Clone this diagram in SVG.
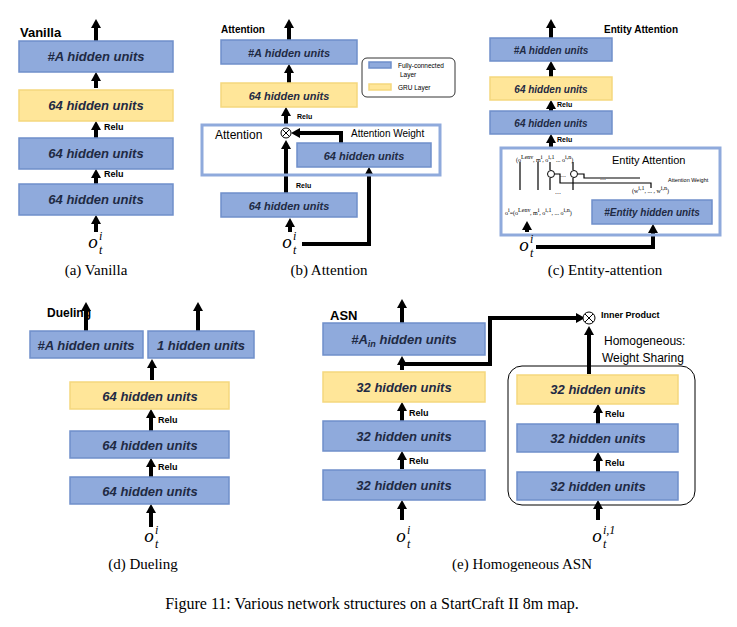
<svg xmlns="http://www.w3.org/2000/svg" width="737" height="627" viewBox="0 0 737 627">
<defs>
<marker id="ah" markerWidth="10" markerHeight="10" refX="4" refY="5" orient="auto" markerUnits="userSpaceOnUse"><path d="M0,0 L9,5 L0,10 z" fill="#000"/></marker>
</defs>
<style>
.b{fill:#8faadc;stroke:#6f8fca;stroke-width:1.5}
.y{fill:#ffe699;stroke:#f5d77e;stroke-width:1.5}
.t{font-family:"Liberation Sans",sans-serif;font-style:italic;font-weight:bold;font-size:13px;text-anchor:middle;fill:#1f2a44}
.h{font-family:"Liberation Sans",sans-serif;font-weight:bold;font-size:13px;fill:#000}
.s{font-family:"Liberation Sans",sans-serif;font-weight:bold;font-size:9px;fill:#000}
.c{font-family:"Liberation Serif",serif;font-size:15px;text-anchor:middle;fill:#000}
.o{font-family:"Liberation Serif",serif;font-style:italic;font-size:19px;text-anchor:middle}
.sub{font-family:"Liberation Serif",serif;font-style:italic;font-size:12px}
.a{stroke:#000;stroke-width:4;fill:none;marker-end:url(#ah)}
.l{stroke:#000;stroke-width:4;fill:none}
.f{fill:none;stroke:#8faadc;stroke-width:3}
.th{stroke:#000;stroke-width:1.2;fill:none}
</style>
<rect width="737" height="627" fill="#fff"/>
<g id="connectors">
<path class="a" d="M96,41 V24"/><path class="a" d="M96,138 V126"/><path class="a" d="M96,184 V174"/><path class="a" d="M96,232 V220"/><path class="a" d="M96,88 V77"/>
<path class="a" d="M289,40 V24"/><path class="a" d="M289,83 V69"/><path class="a" d="M286,125 V112"/><path class="a" d="M286,193 V145"/><path class="a" d="M290,232 V223"/>
<path class="l" d="M341,143 V133 H300"/><path class="a" d="M302,133 H296"/>
<path class="l" d="M302,244 H369 V175"/><path class="a" d="M369,178 V172"/>
<path class="a" d="M551,38 V24"/><path class="a" d="M551,77 V66"/><path class="a" d="M551,111 V105"/><path class="a" d="M551,148 V139"/>
<path class="a" d="M527,232 V226"/><path class="l" d="M536,247 H653 V234"/><path class="a" d="M653,236 V229"/>
<path class="th" d="M520,190 V162"/><path class="th" d="M538,190 V162"/><path class="th" d="M550,190 V178"/><path class="th" d="M573,190 V178"/><path class="th" d="M550,170 V162"/><path class="th" d="M573,170 V162"/>
<path class="th" d="M555,174 H560 V183 H651 V188"/><path class="th" d="M578,174 H584 V178 H640"/>
<path class="a" d="M86,331 V307"/><path class="a" d="M198,331 V307"/><path class="a" d="M152,380 V364"/><path class="a" d="M151,431 V414"/><path class="a" d="M151,477 V463"/><path class="a" d="M151,527 V509"/>
<path class="a" d="M402,323 V304"/><path class="a" d="M402,370 V361"/><path class="a" d="M402,421 V407"/><path class="a" d="M402,469 V456"/><path class="a" d="M402,520 V505"/>
<path class="l" d="M402,364 H490 V318 H575"/><path class="a" d="M574,318 H580"/>
<path class="a" d="M589,374 V331"/><path class="a" d="M598,424 V409"/><path class="a" d="M598,472 V457"/><path class="a" d="M598,520 V505"/>
</g>
<g id="panel-a">
<text class="h" x="20" y="37">Vanilla</text>
<rect id="a1" class="b" x="19" y="41" width="154" height="31"/><text class="t" x="96" y="61">#A hidden units</text>
<rect id="a2" class="y" x="19" y="90" width="154" height="31"/><text class="t" x="96" y="110">64 hidden units</text>
<text class="s" x="104" y="130">Relu</text>
<rect id="a3" class="b" x="19" y="138" width="154" height="31"/><text class="t" x="96" y="158">64 hidden units</text>
<text class="s" x="104" y="177">Relu</text>
<rect id="a4" class="b" x="19" y="184" width="154" height="31"/><text class="t" x="96" y="204">64 hidden units</text>
<text class="o" x="93" y="248">o</text><text class="sub" x="99" y="240">i</text><text class="sub" x="99" y="254">t</text>
<text class="c" x="96" y="275">(a) Vanilla</text>
</g>
<g id="panel-b">
<text class="s" x="221" y="33" style="font-size:10px">Attention</text>
<rect id="b1" class="b" x="221" y="40" width="136" height="24"/><text class="t" x="289" y="57" style="font-size:11px">#A hidden units</text>
<rect id="b2" class="y" x="221" y="83" width="136" height="24"/><text class="t" x="289" y="100" style="font-size:11px">64 hidden units</text>
<text class="s" x="297" y="119" style="font-size:7px">Relu</text>
<rect class="f" x="202" y="125" width="238" height="50"/>
<text x="215" y="139" style="font-family:'Liberation Sans',sans-serif;font-size:12px">Attention</text>
<circle cx="286" cy="133" r="5" fill="#fff" stroke="#000"/><path d="M282.5,129.5 L289.5,136.5 M289.5,129.5 L282.5,136.5" stroke="#000"/>
<text x="351" y="137" style="font-family:'Liberation Sans',sans-serif;font-size:10px">Attention Weight</text>
<rect id="b3" class="b" x="297" y="143" width="134" height="24"/><text class="t" x="364" y="160" style="font-size:11px">64 hidden units</text>
<text class="s" x="296" y="188" style="font-size:7px">Relu</text>
<rect id="b4" class="b" x="221" y="193" width="136" height="24"/><text class="t" x="289" y="210" style="font-size:11px">64 hidden units</text>
<rect x="362" y="58" width="93" height="39" rx="5" fill="#fff" stroke="#000" stroke-width="0.8"/>
<rect class="b" x="369" y="62" width="22" height="6" stroke-width="0.5"/><rect class="y" x="369" y="84" width="22" height="6" stroke-width="0.5"/>
<text x="398" y="68" style="font-family:'Liberation Sans',sans-serif;font-size:6.5px">Fully-connected</text>
<text x="400" y="77" style="font-family:'Liberation Sans',sans-serif;font-size:6.5px">Layer</text>
<text x="398" y="90" style="font-family:'Liberation Sans',sans-serif;font-size:6.5px">GRU Layer</text>
<text class="o" x="287" y="248">o</text><text class="sub" x="293" y="240">i</text><text class="sub" x="293" y="254">t</text>
<text class="c" x="329" y="275">(b) Attention</text>
</g>
<g id="panel-c">
<text class="s" x="604" y="33" style="font-size:10px">Entity Attention</text>
<rect id="c1" class="b" x="490" y="38" width="122" height="23"/><text class="t" x="551" y="54" style="font-size:10px">#A hidden units</text>
<rect id="c2" class="y" x="490" y="77" width="122" height="23"/><text class="t" x="551" y="93" style="font-size:10px">64 hidden units</text>
<text class="s" x="557" y="107" style="font-size:7px">Relu</text>
<rect id="c3" class="b" x="490" y="111" width="122" height="23"/><text class="t" x="551" y="127" style="font-size:10px">64 hidden units</text>
<text class="s" x="557" y="142" style="font-size:7px">Relu</text>
<rect class="f" x="501" y="148" width="219" height="87"/>
<text x="612" y="164" style="font-family:'Liberation Sans',sans-serif;font-size:11px">Entity Attention</text>
<text x="516" y="162" style="font-family:'Liberation Serif',serif;font-size:6px">(o<tspan dy="-3">Lenv</tspan><tspan dy="3">, m</tspan><tspan dy="-3">i</tspan><tspan dy="3">, o</tspan><tspan dy="-3">i,1</tspan><tspan dy="3"> ... o</tspan><tspan dy="-3">i,n</tspan><tspan dy="3">)</tspan></text>
<circle cx="551" cy="174" r="3.5" fill="#fff" stroke="#000"/><circle cx="574" cy="174" r="3.5" fill="#fff" stroke="#000"/>
<text x="560" y="177" style="font-family:'Liberation Sans',sans-serif;font-size:7px">...</text>
<text x="600" y="180" style="font-family:'Liberation Sans',sans-serif;font-size:7px">...</text>
<text x="555" y="194" style="font-family:'Liberation Sans',sans-serif;font-size:7px">...</text>
<text x="668" y="182" style="font-family:'Liberation Sans',sans-serif;font-size:5.5px">Attention Weight</text>
<text x="632" y="193" style="font-family:'Liberation Serif',serif;font-size:6px">(w<tspan dy="-3">i,1</tspan><tspan dy="3">, ... , w</tspan><tspan dy="-3">i,n</tspan><tspan dy="3">)</tspan></text>
<text x="505" y="215" style="font-family:'Liberation Serif',serif;font-size:6px">o<tspan dy="-3">i</tspan><tspan dy="3">=(o</tspan><tspan dy="-3">Lenv</tspan><tspan dy="3">, m</tspan><tspan dy="-3">i</tspan><tspan dy="3">, o</tspan><tspan dy="-3">i,1</tspan><tspan dy="3">, ... o</tspan><tspan dy="-3">i,n</tspan><tspan dy="3">)</tspan></text>
<rect id="c4" class="b" x="592" y="200" width="120" height="24"/><text class="t" x="652" y="216" style="font-size:10px">#Entity hidden units</text>
<text class="o" x="524" y="251">o</text><text class="sub" x="530" y="243">i</text><text class="sub" x="530" y="257">t</text>
<text class="c" x="605" y="275">(c) Entity-attention</text>
</g>
<g id="panel-d">
<text class="h" x="47" y="317" style="font-size:12px">Dueling</text>
<rect id="d1" class="b" x="30" y="331" width="113" height="27"/><text class="t" x="86" y="350">#A hidden units</text>
<rect id="d2" class="b" x="148" y="331" width="106" height="27"/><text class="t" x="201" y="350">1 hidden units</text>
<rect id="d3" class="y" x="70" y="382" width="159" height="27"/><text class="t" x="150" y="401">64 hidden units</text>
<text class="s" x="158" y="423">Relu</text>
<rect id="d4" class="b" x="70" y="431" width="159" height="27"/><text class="t" x="150" y="450">64 hidden units</text>
<text class="s" x="158" y="470">Relu</text>
<rect id="d5" class="b" x="70" y="477" width="159" height="27"/><text class="t" x="150" y="496">64 hidden units</text>
<text class="o" x="149" y="542">o</text><text class="sub" x="155" y="534">i</text><text class="sub" x="155" y="548">t</text>
<text class="c" x="143" y="569">(d) Dueling</text>
</g>
<g id="panel-e">
<text class="h" x="330" y="320">ASN</text>
<rect id="e1" class="b" x="323" y="323" width="162" height="32"/><text class="t" x="404" y="344">#A<tspan font-size="9" dy="3">in</tspan><tspan dy="-3"> hidden units</tspan></text>
<rect id="e2" class="y" x="323" y="372" width="162" height="30"/><text class="t" x="404" y="392">32 hidden units</text>
<text class="s" x="409" y="416">Relu</text>
<rect id="e3" class="b" x="323" y="421" width="162" height="30"/><text class="t" x="404" y="441">32 hidden units</text>
<text class="s" x="409" y="464">Relu</text>
<rect id="e4" class="b" x="323" y="470" width="162" height="30"/><text class="t" x="404" y="490">32 hidden units</text>
<circle cx="589" cy="318" r="6" fill="#fff" stroke="#000"/><path d="M585,314 L593,322 M593,314 L585,322" stroke="#000"/>
<text class="s" x="601" y="318">Inner Product</text>
<text x="604" y="345" style="font-family:'Liberation Sans',sans-serif;font-size:12px">Homogeneous:</text>
<text x="602" y="362" style="font-family:'Liberation Sans',sans-serif;font-size:12px">Weight Sharing</text>
<rect x="508" y="366" width="187" height="139" rx="14" fill="none" stroke="#000" stroke-width="1"/>
<rect id="e5" class="y" x="517" y="375" width="161" height="29"/><text class="t" x="598" y="394">32 hidden units</text>
<text class="s" x="605" y="417">Relu</text>
<rect id="e6" class="b" x="517" y="424" width="161" height="28"/><text class="t" x="598" y="443">32 hidden units</text>
<text class="s" x="605" y="466">Relu</text>
<rect id="e7" class="b" x="517" y="472" width="161" height="28"/><text class="t" x="598" y="491">32 hidden units</text>
<text class="o" x="401" y="542">o</text><text class="sub" x="407" y="534">i</text><text class="sub" x="407" y="548">t</text>
<text class="o" x="597" y="542">o</text><text class="sub" x="603" y="534">i,1</text><text class="sub" x="603" y="548">t</text>
<text class="c" x="522" y="569">(e) Homogeneous ASN</text>
</g>
<text class="c" x="372" y="609" style="font-size:16px">Figure 11: Various network structures on a StartCraft II 8m map.</text>
</svg>
